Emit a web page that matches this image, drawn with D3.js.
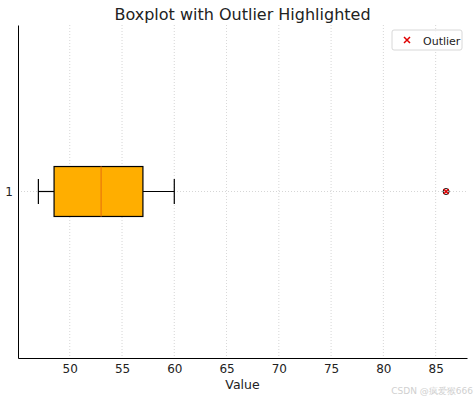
<!DOCTYPE html>
<html>
<head>
<meta charset="utf-8">
<script src="https://cdn.jsdelivr.net/npm/d3@7"></script>
<style>
  body { margin: 0; background: #fff; }
  svg { font-family: "DejaVu Sans", sans-serif; }
</style>
</head>
<body>
<svg id="chart" width="474" height="398"></svg>
<script>
// Box summary for the single series (label "1")
const categories = ["1"];
const whiskerLow = [47];
const q1 = [48.5];
const median = [53];
const q3 = [57];
const whiskerHigh = [60];
const outliers = [86];
const xTicks = [50, 55, 60, 65, 70, 75, 80, 85];

const svg = d3.select("#chart");
const margin = { top: 25, right: 7, bottom: 40, left: 18 };
const width = 474 - margin.left - margin.right;
const height = 398 - margin.top - margin.bottom;

const x = d3.scaleLinear().domain([45.05, 88.0]).range([0, width]);
const y = d3.scaleLinear().domain([0.5, 1.5]).range([height, 0]);
const boxHalf = 0.075;

const g = svg.append("g").attr("transform", `translate(${margin.left},${margin.top})`);

// Grid
g.selectAll(".vgrid").data(xTicks).join("line")
    .attr("x1", d => x(d)).attr("x2", d => x(d))
    .attr("y1", 0).attr("y2", height)
    .attr("stroke", "#b8b8b8").attr("stroke-width", 0.8)
    .attr("stroke-dasharray", "1,2").attr("opacity", 0.7);
g.selectAll(".hgrid").data(categories).join("line")
    .attr("x1", 0).attr("x2", width)
    .attr("y1", d => y(+d)).attr("y2", d => y(+d))
    .attr("stroke", "#b8b8b8").attr("stroke-width", 0.8)
    .attr("stroke-dasharray", "1,2").attr("opacity", 0.7);

// Boxes
categories.forEach((c, i) => {
    const cy = y(+c);
    const top = y(+c + boxHalf), bot = y(+c - boxHalf);
    const capTop = y(+c + boxHalf / 2), capBot = y(+c - boxHalf / 2);
    // whiskers
    g.append("line").attr("x1", x(whiskerLow[i])).attr("x2", x(q1[i]))
        .attr("y1", cy).attr("y2", cy).attr("stroke", "#000").attr("stroke-width", 1.2);
    g.append("line").attr("x1", x(q3[i])).attr("x2", x(whiskerHigh[i]))
        .attr("y1", cy).attr("y2", cy).attr("stroke", "#000").attr("stroke-width", 1.2);
    // caps
    [whiskerLow[i], whiskerHigh[i]].forEach(v => {
        g.append("line").attr("x1", x(v)).attr("x2", x(v))
            .attr("y1", capTop).attr("y2", capBot).attr("stroke", "#000").attr("stroke-width", 1.2);
    });
    // box
    g.append("rect")
        .attr("x", x(q1[i])).attr("y", top)
        .attr("width", x(q3[i]) - x(q1[i])).attr("height", bot - top)
        .attr("fill", "#ffae00").attr("stroke", "#000").attr("stroke-width", 1.2);
    // median
    g.append("line").attr("x1", x(median[i])).attr("x2", x(median[i]))
        .attr("y1", top).attr("y2", bot).attr("stroke", "#e8780c").attr("stroke-width", 1.2);
    // fliers
    g.selectAll(".flier").data(outliers).join("circle")
        .attr("cx", d => x(d)).attr("cy", cy).attr("r", 3)
        .attr("fill", "none").attr("stroke", "#000").attr("stroke-width", 1);
    g.selectAll(".outx").data(outliers).join("path")
        .attr("d", d => `M${x(d) - 2.5},${cy - 2.5}L${x(d) + 2.5},${cy + 2.5}M${x(d) - 2.5},${cy + 2.5}L${x(d) + 2.5},${cy - 2.5}`)
        .attr("stroke", "#e00000").attr("stroke-width", 1.5);
});

// Axes
const xAxis = d3.axisBottom(x).tickValues(xTicks).tickSizeInner(0).tickSizeOuter(0).tickPadding(6);
const xg = g.append("g").attr("transform", `translate(0,${height})`).call(xAxis);
xg.select(".domain").attr("stroke", "#000").attr("stroke-width", 1);
xg.selectAll("text").attr("font-size", 12).attr("fill", "#222").attr("font-family", "DejaVu Sans");

const yAxis = d3.axisLeft(y).tickValues(categories.map(Number)).tickFormat(d => String(d))
    .tickSizeInner(0).tickSizeOuter(0).tickPadding(5);
const yg = g.append("g").call(yAxis);
yg.select(".domain").attr("stroke", "#000").attr("stroke-width", 1);
yg.selectAll("text").attr("font-size", 12).attr("fill", "#222").attr("font-family", "DejaVu Sans");

// Labels
svg.append("text").attr("x", margin.left + width / 2).attr("y", 20)
    .attr("text-anchor", "middle").attr("font-size", 16).attr("fill", "#222")
    .text("Boxplot with Outlier Highlighted");
svg.append("text").attr("x", margin.left + width / 2).attr("y", 389)
    .attr("text-anchor", "middle").attr("font-size", 12.5).attr("fill", "#222")
    .text("Value");

// Legend
const lg = svg.append("g").attr("transform", "translate(392,30)");
lg.append("rect").attr("width", 70).attr("height", 20).attr("rx", 2)
    .attr("fill", "#fff").attr("fill-opacity", 0.8).attr("stroke", "#d8d8d8");
lg.append("path").attr("d", "M12,7L18,13M12,13L18,7").attr("stroke", "#e00000").attr("stroke-width", 1.5);
lg.append("text").attr("x", 31).attr("y", 14.5).attr("font-size", 11).attr("fill", "#222").text("Outlier");

// Watermark
svg.append("text").attr("x", 473).attr("y", 394).attr("text-anchor", "end")
    .attr("font-size", 9).attr("fill", "#d0d0d0").text("CSDN @疯爱猴666");
</script>
</body>
</html>
